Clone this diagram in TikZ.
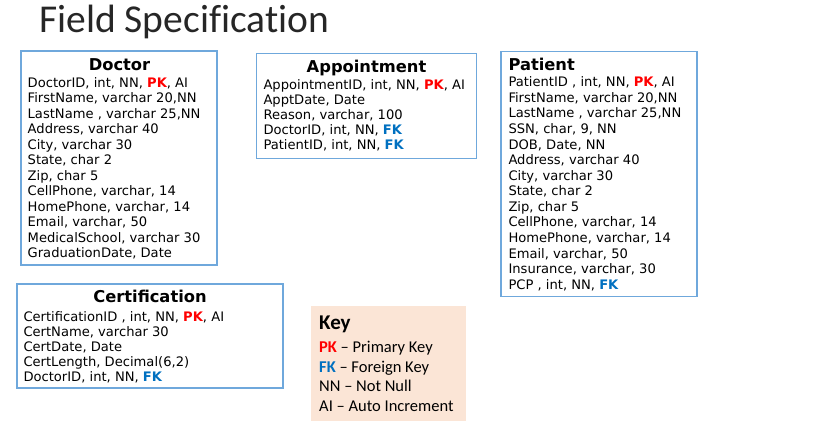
\documentclass[tikz,border=0pt]{standalone}
\usepackage{fontspec}
\setmainfont{DejaVu Sans}
\newfontfamily\calib[Ligatures={NoCommon},Contextuals={NoAlternate}]{Carlito}
\definecolor{boxblue}{HTML}{6FA8DC}
\definecolor{pkred}{HTML}{FF0000}
\definecolor{fkblue}{HTML}{0070C0}
\definecolor{keyfill}{HTML}{FBE5D6}
\definecolor{titlegray}{HTML}{262626}
\newcommand\PKm{{\bfseries\color{pkred}PK}}
\newcommand\FKm{{\bfseries\color{fkblue}FK}}
\begin{document}
\begin{tikzpicture}[x=1pt,y=-1pt,
  tblbox/.style={draw=boxblue,line width=1.6pt,inner sep=0pt,outer sep=0pt,anchor=north west},
  keybox/.style={fill=keyfill,draw=none,inner sep=0pt,outer sep=0pt,anchor=north west},
  tbltitle/.style={font=\fontsize{16.3}{19}\selectfont\bfseries,inner sep=0pt,anchor=base},
  fieldtxt/.style={font=\fontsize{13.1}{15.5}\selectfont,inner sep=0pt,anchor=base west},
  keytitle/.style={font=\calib\fontsize{21}{24}\selectfont\bfseries,inner sep=0pt,anchor=base west},
  keytxt/.style={font=\calib\fontsize{16.5}{19}\selectfont,inner sep=0pt,anchor=base west},
  pagetitle/.style={font=\calib\fontsize{39.5}{44}\selectfont,text=titlegray,inner sep=0pt,anchor=base west}]
\useasboundingbox (0,0) rectangle (833,426);

\node[pagetitle] (title) at (39,32) {Field Specification};

% Doctor
\node[tblbox,minimum width=196pt,minimum height=214pt] (doctor) at (21,51) {};
\node[tbltitle] (doctortitle) at (119.5,70) {Doctor};
\foreach \t [count=\i from 0] in {{DoctorID, int, NN, \PKm, AI},{FirstName, varchar 20,NN},{LastName , varchar 25,NN},{Address, varchar 40},{City, varchar 30},{State, char 2},{Zip, char 5},{CellPhone, varchar, 14},{HomePhone, varchar, 14},{Email, varchar, 50},{MedicalSchool, varchar 30},{GraduationDate, Date}}
  \node[fieldtxt] (doc\i) at (27.5,{87.3+15.5*\i}) {\t};

% Appointment
\node[tblbox,minimum width=220pt,minimum height=105pt] (appt) at (256.5,53.3) {};
\node[tbltitle] (appttitle) at (366.5,72.7) {Appointment};
\foreach \t [count=\i from 0] in {{AppointmentID, int, NN, \PKm, AI},{ApptDate, Date},{Reason, varchar, 100},{DoctorID, int, NN, \FKm},{PatientID, int, NN, \FKm}}
  \node[fieldtxt] (appt\i) at (263.3,{89.3+15.0*\i}) {\t};

% Patient
\node[tblbox,minimum width=196pt,minimum height=245pt] (patient) at (500.8,51.5) {};
\node[tbltitle,anchor=base west] (patienttitle) at (508.3,70) {Patient};
\foreach \t [count=\i from 0] in {{PatientID , int, NN, \PKm, AI},{FirstName, varchar 20,NN},{LastName , varchar 25,NN},{SSN, char, 9, NN},{DOB, Date, NN},{Address, varchar 40},{City, varchar 30},{State, char 2},{Zip, char 5},{CellPhone, varchar, 14},{HomePhone, varchar, 14},{Email, varchar, 50},{Insurance, varchar, 30},{PCP , int, NN, \FKm}}
  \node[fieldtxt] (pat\i) at (508.3,{86.7+15.58*\i}) {\t};

% Certification
\node[tblbox,minimum width=266.5pt,minimum height=104pt] (cert) at (16.7,284.2) {};
\node[tbltitle] (certtitle) at (150,302.7) {Certification};
\foreach \t [count=\i from 0] in {{CertificationID , int, NN, \PKm, AI},{CertName, varchar 30},{CertDate, Date},{CertLength, Decimal(6,2)},{DoctorID, int, NN, \FKm}}
  \node[fieldtxt] (cert\i) at (23.3,{321+15.2*\i}) {\t};

% Key
\node[keybox,minimum width=155pt,minimum height=114.5pt] (key) at (311,306) {};
\node[keytitle] (keytitle) at (319,329.3) {Key};
\node[keytxt] (key0) at (319,352.3) {{\bfseries\color{pkred}PK} – Primary Key};
\node[keytxt] (key1) at (319,372.1) {{\bfseries\color{fkblue}FK} – Foreign Key};
\node[keytxt] (key2) at (319,391.9) {NN – Not Null};
\node[keytxt] (key3) at (319,411.7) {AI – Auto Increment};
\end{tikzpicture}
\end{document}
